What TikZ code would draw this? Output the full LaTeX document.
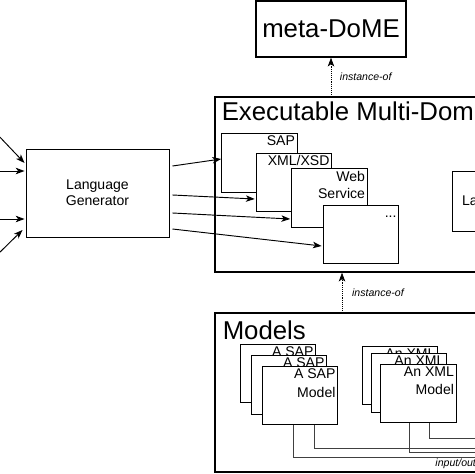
\documentclass[tikz,border=0pt]{standalone}
\usepackage{fontspec}
\setmainfont{Liberation Sans}
\usetikzlibrary{calc, arrows.meta}

\begin{document}
\begin{tikzpicture}[x=0.03cm, y=-0.03cm, >={Stealth[length=7.5pt, width=5.5pt, inset=2pt]}, line width=0.8pt,
		box/.style={draw, rectangle, fill=white, inner sep=0pt, minimum width=2.27cm, minimum height=1.76cm},
		frame/.style={draw, rectangle, line width=1.2pt, inner sep=0pt},
		title/.style={inner sep=0pt, font=\fontsize{22}{24}\selectfont},
		tag/.style={anchor=north east, align=right, inner sep=2pt, font=\fontsize{12}{14.5}\selectfont},
		mtag/.style={tag, font=\fontsize{12}{16}\selectfont},
		rel/.style={->, densely dotted, line width=0.6pt},
		note/.style={font=\itshape\fontsize{9}{10}\selectfont},
		wire/.style={line width=0.6pt, black!75}]
		\useasboundingbox (0,0) rectangle (474,474);
		% top: meta model
		\node (meta) [frame, title, minimum width=4.5cm, minimum height=1.68cm] at (331,29) {meta-DoME};
		% middle frame with the language definitions
		\node (exec) [frame, minimum width=9.45cm, minimum height=5.25cm] at (372.5,184.5) {};
		\node (exectitle) [title, anchor=north west] at ($(exec.north west)+(7,5)$) {Executable Multi-Dom};
		\node (sap) [box, label={[tag]north east:SAP}] at (259.5,163) {};
		\node (xml) [box, label={[tag]north east:XML/XSD}] at (294,182.5) {};
		\node (web) [box, label={[tag]north east:{Web\\Service}}] at (329.5,198) {};
		\node (dots) [box, label={[tag]north east:{\vphantom{A}...}}] at (361,234.5) {};
		\node (lang) [box, minimum height=1.8cm, label={[tag, anchor=west, inner sep=0pt, xshift=8.5pt]west:La}] at (490,201) {};
		% generator
		\node (lg) [box, minimum width=4.29cm, minimum height=2.64cm, align=center, font=\fontsize{12}{13.6}\selectfont] at (97.5,193) {Language\\Generator};
		% bottom frame with the models
		\node (models) [frame, minimum width=9.45cm, minimum height=4.77cm] at (372.5,392.5) {};
		\node (modtitle) [title, anchor=north west] at ($(models.north west)+(8,8)$) {Models};
		\node (sapA) [box, label={[mtag]north east:{A SAP\\Model}}] at (278,373.5) {};
		\node (sapB) [box, label={[mtag]north east:{A SAP\\Model}}] at (289,385) {};
		\node (sapC) [box, label={[mtag]north east:{A SAP\\Model}}] at (300,395.5) {};
		\node (xmlA) [box, label={[mtag]north east:{An XML\\Model}}] at (400,375.5) {};
		\node (xmlB) [box, label={[mtag]north east:{An XML\\Model}}] at (409,383) {};
		\node (xmlC) [box, label={[mtag]north east:{An XML\\Model}}] at (418.5,393.5) {};

		% instance-of relations
		\draw[rel] ($(exec.north)+(-41.5,0)$) -- node[note, right=4pt] {instance-of} (meta.south);
		\draw[rel] ($(models.north)+(-30.5,0)$) coordinate (m1) -- node[note, right=5pt] {instance-of} (m1 |- exec.south);

		% inputs of the generator
		\coordinate (src1) at (-4,133);
		\coordinate (src2) at (-4,171);
		\coordinate (src3) at (-4,219);
		\coordinate (src4) at (-4,256);
		\draw[->] (src1) -- ($(lg.west)+(-1,-30)$);
		\draw[->] (src2) -- ($(lg.west)+(-1,-22)$);
		\draw[->] (src3) -- ($(lg.west)+(-1,26)$);
		\draw[->] (src4) -- ($(lg.west)+(-3,37)$);

		% outputs of the generator
		\draw[->] ($(lg.east)+(3,-27)$) -- ($(sap.west)+(0,-4)$);
		\draw[->] ($(lg.east)+(3,2)$) -- ($(xml.west)+(-1,16.5)$);
		\draw[->] ($(lg.east)+(3,20)$) -- ($(web.west)+(-1,21)$);
		\draw[->] ($(lg.east)+(3,36)$) -- ($(dots.west)+(-1,11.5)$);

		% model wires
		\coordinate (io1) at (480,448);
		\coordinate (io2) at (480,457);
		\coordinate (io3) at (480,452);
		\coordinate (io4) at (480,438);
		\draw[wire] ($(sapC.south)+(14,0)$) |- (io1);
		\draw[wire] ($(sapC.south)+(-7,0)$) |- (io2);
		\draw[wire] ($(xmlC.south)+(-9.5,0)$) |- (io3);
		\draw[wire] ($(xmlC.south)+(10.5,0)$) |- (io4);
		\node (iolabel) [note, anchor=base west, inner sep=0pt] at (435,466) {input/outp};
	\end{tikzpicture}
\end{document}
